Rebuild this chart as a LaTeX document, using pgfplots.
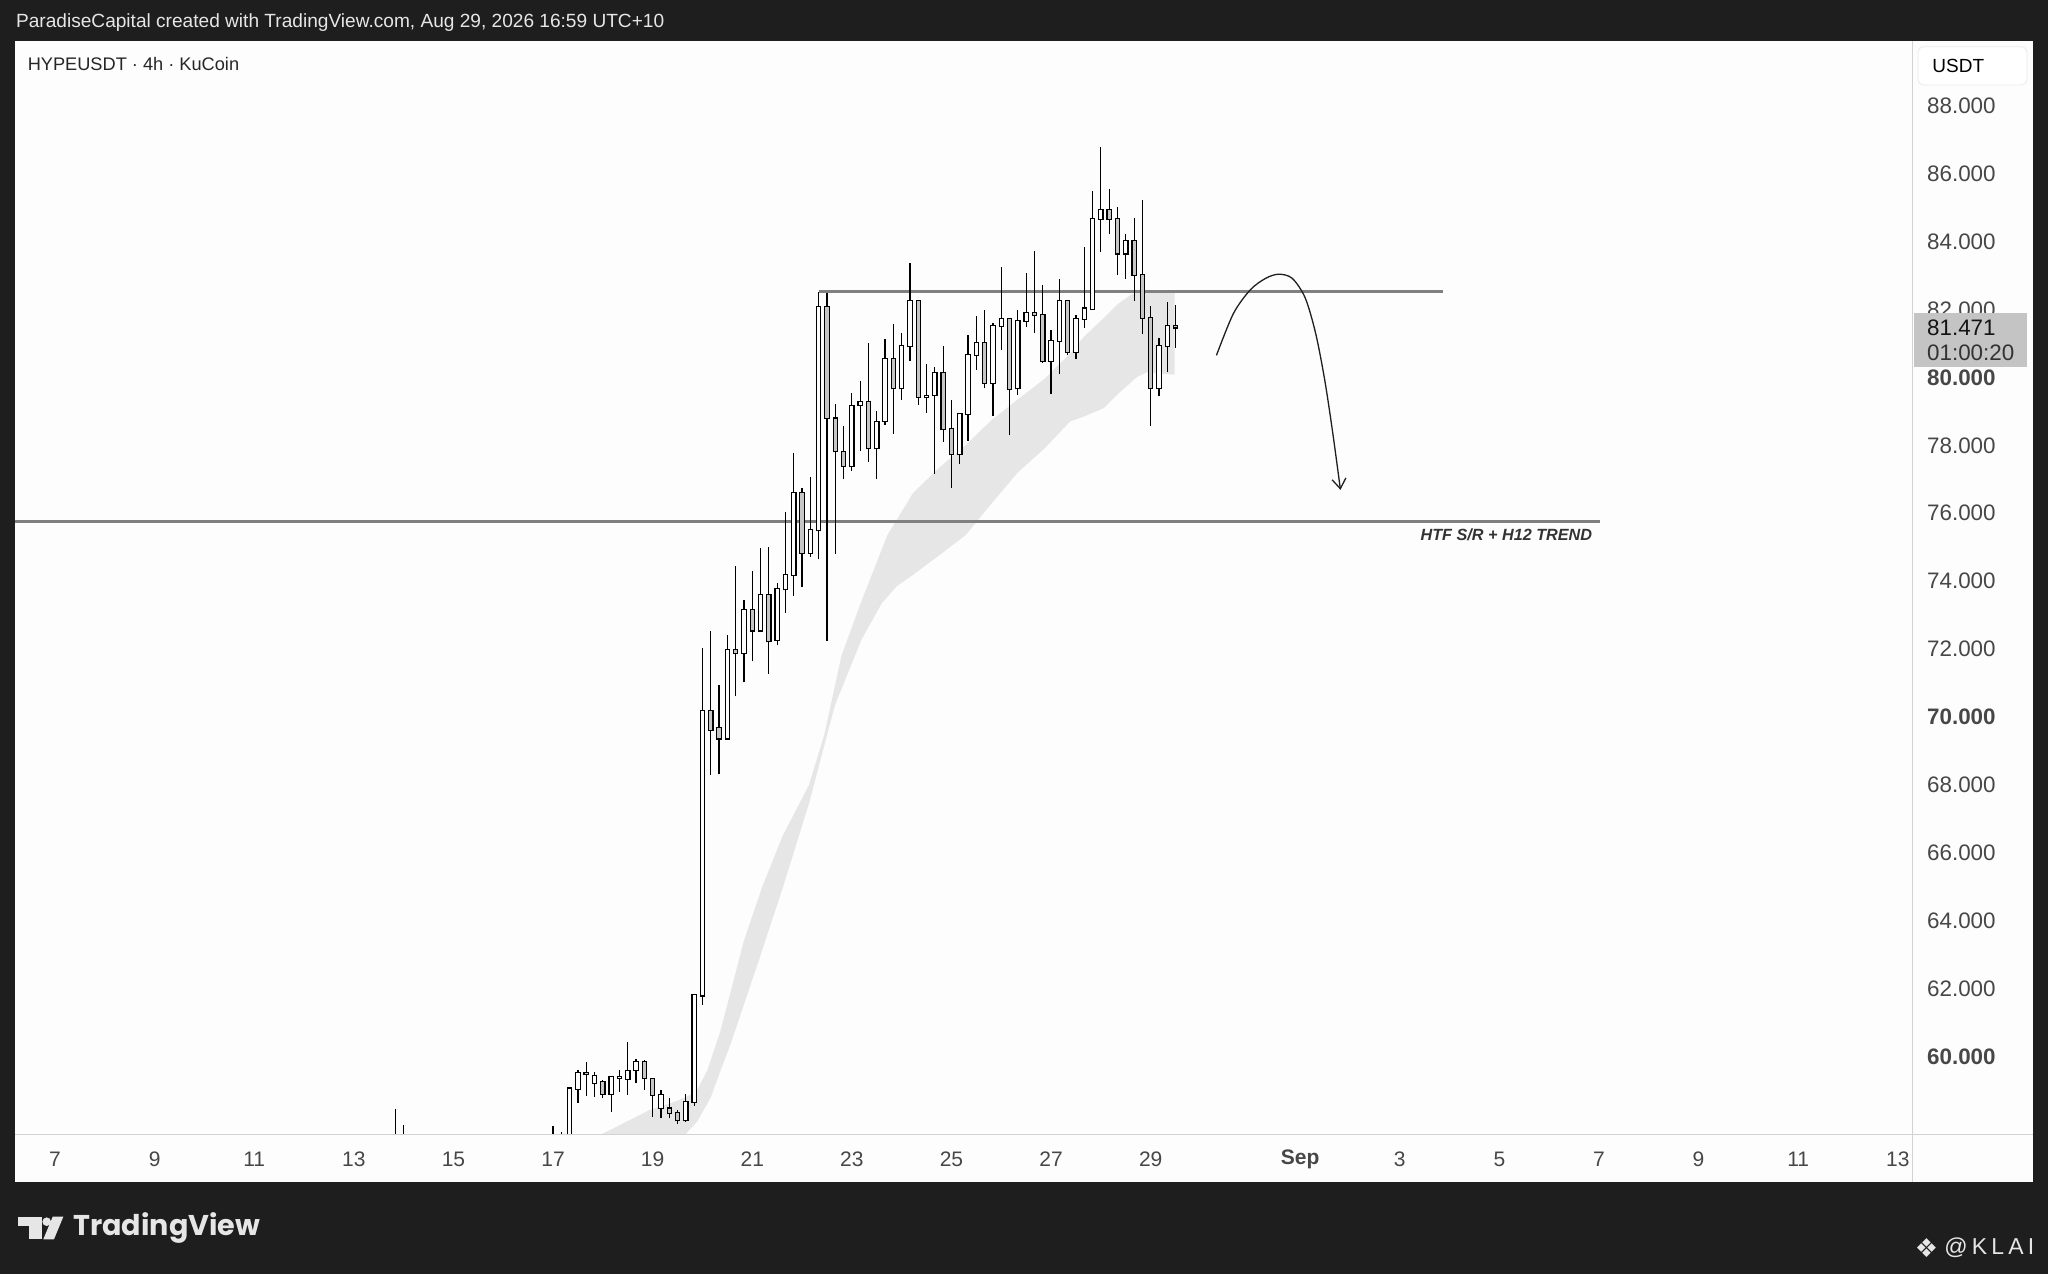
\documentclass[border=0pt]{standalone}
\usepackage{fontspec}
\setmainfont{Liberation Sans}
\newfontfamily\symfont{DejaVu Sans}
\newfontfamily\tvfont{Poppins}
\newfontfamily\klaifont[LetterSpace=18]{Liberation Sans}
\usepackage{pgfplots}
\pgfplotsset{compat=1.18}
\usepackage{pgfplotstable}
\usetikzlibrary{arrows.meta}
\definecolor{frame}{HTML}{1E1E1E}
\definecolor{panel}{HTML}{FDFDFD}
\definecolor{sep}{HTML}{D2D2D2}
\definecolor{ticktext}{HTML}{474747}
\definecolor{bearfill}{HTML}{C6C6C6}
\definecolor{band}{HTML}{E6E6E6}
\definecolor{lvl}{HTML}{808080}
\definecolor{pricebox}{HTML}{C4C4C4}
\definecolor{headtext}{HTML}{E6E6E6}

% 4h candles: n = candle index, time = Aug 17 + n/6 days
\pgfplotstableread{
n o h l c
-19 56.4 58.47 55.9 56.9
-18 56.9 58.00 56.3 57.2
0 56.0 57.95 55.5 56.8
1 56.8 57.78 56.3 57.0
2 57.0 59.09 56.8 59.06
3 59.06 59.62 58.64 59.52
4 59.52 59.85 58.84 59.48
5 59.23 59.55 58.82 59.42
6 59.26 59.31 58.77 58.91
7 58.91 59.41 58.37 59.39
8 59.37 59.62 58.96 59.39
9 59.34 60.44 58.87 59.58
10 59.62 59.92 59.21 59.83
11 59.83 59.90 59.01 59.36
12 59.33 59.36 58.21 58.88
13 58.50 59.01 58.18 58.88
14 58.47 58.77 58.18 58.35
15 58.34 58.42 58.01 58.13
16 58.13 58.91 58.08 58.67
17 58.67 61.80 58.55 61.80
18 61.80 72.02 61.53 70.17
19 70.17 72.53 68.29 69.61
20 69.67 70.94 68.32 69.37
21 69.37 72.42 69.35 71.97
22 71.97 74.46 70.61 71.90
23 71.90 73.44 71.02 73.16
24 73.16 74.30 71.64 72.55
25 72.55 74.97 72.50 73.60
26 73.60 75.00 71.28 72.24
27 72.27 73.95 72.12 73.76
28 73.76 76.05 73.07 74.18
29 74.18 77.78 73.56 76.60
30 76.60 76.73 73.82 74.84
31 74.84 77.08 74.72 75.50
32 75.50 82.53 74.64 82.08
33 82.06 82.48 72.24 78.82
34 78.79 79.22 74.80 77.83
35 77.81 78.58 77.00 77.39
36 77.39 79.55 77.25 79.16
37 79.18 79.89 77.84 79.28
38 79.28 81.00 77.52 77.91
39 77.91 79.02 77.00 78.68
40 78.73 81.12 78.60 80.55
41 80.55 81.57 78.33 79.68
42 79.68 81.30 79.33 80.92
43 80.92 83.38 80.49 82.26
44 82.26 82.28 79.19 79.43
45 79.43 80.39 78.96 79.46
46 79.48 80.30 77.17 80.12
47 80.12 80.92 78.10 78.47
48 78.47 79.33 76.73 77.74
49 77.74 78.92 77.45 78.92
50 78.92 81.25 78.13 80.66
51 80.66 81.81 80.22 81.00
52 81.00 81.98 79.68 79.84
53 79.84 81.61 78.86 81.51
54 81.51 83.24 80.82 81.71
55 81.71 81.75 78.30 79.65
56 79.68 81.98 79.48 81.67
57 81.67 83.08 81.49 81.89
58 81.89 83.72 81.30 81.84
59 81.84 82.72 80.43 80.49
60 80.49 81.40 79.51 81.07
61 81.07 82.89 80.09 82.25
62 82.25 82.28 80.66 80.76
63 80.76 81.84 80.53 81.72
64 81.72 83.85 81.47 82.03
65 82.03 85.49 82.00 84.67
66 84.68 86.80 83.68 84.93
67 84.93 85.55 84.21 84.67
68 84.67 85.03 83.03 83.65
69 83.65 84.21 82.90 84.02
70 84.02 84.70 82.25 83.02
71 83.02 85.23 81.27 81.76
72 81.76 82.11 78.58 79.68
73 79.68 81.17 79.46 80.93
74 80.93 82.21 80.15 81.51
75 81.51 82.13 80.86 81.471
}\candles

\begin{document}
\begin{tikzpicture}
% frame and panel (units: reference pixels, 0.5pt each)
\begin{scope}[x=0.5pt,y=0.5pt]
\fill[frame] (0,0) rectangle (2048,1274);
\fill[panel] (15,92) rectangle (2032.7,1233);
\end{scope}

\begin{axis}[
  at={(7.5pt,69.75pt)}, anchor=south west,
  scale only axis, width=948.85pt, height=546.75pt,
  xmin=6.197, xmax=44.30, ymin=57.706, ymax=89.908,
  axis line style={draw=none}, tick style={draw=none}, major tick length=0pt,
  xtick={7,9,11,13,15,17,19,21,23,25,27,29,32,34,36,38,40,42,44},
  xticklabels={7,9,11,13,15,17,19,21,23,25,27,29,{\textbf{Sep}},3,5,7,9,11,13},
  xticklabel style={anchor=center, yshift=-12.25pt, font=\fontsize{10.5}{12}\selectfont, text=ticktext},
  ytick={60,62,...,88},
  yticklabels={\textbf{60.000},62.000,64.000,66.000,68.000,\textbf{70.000},72.000,74.000,76.000,78.000,\textbf{80.000},82.000,84.000,86.000,88.000},
  yticklabel pos=right,
  yticklabel style={anchor=west, inner sep=0pt, xshift=7pt, font=\fontsize{11.2}{12}\selectfont, text=ticktext},
]
% trend cloud
\addplot[draw=none, fill=band] coordinates {
(17.3,56.5) (18.0,57.73) (18.93,58.42) (19.5,58.7) (19.87,58.95) (20.1,59.6) (20.36,60.75)
(20.83,63.4) (21.2,65.0) (21.61,66.5) (22.14,68.0) (22.45,69.5) (22.79,71.8) (23.19,73.4)
(23.71,75.35) (24.23,76.6) (24.76,77.35) (25.28,78.0) (25.81,78.75) (26.33,79.35) (26.86,79.95)
(27.38,80.7) (27.66,81.2) (28.06,81.75) (28.33,82.15) (28.6,82.43) (28.86,82.57) (29.2,82.55) (29.48,82.48)
(29.48,80.08) (28.92,80.15) (28.73,80.02) (28.33,79.5) (28.06,79.1) (27.66,78.85) (27.38,78.7)
(26.86,77.9) (26.33,77.2) (25.81,76.3) (25.28,75.35) (24.76,74.77) (24.23,74.19) (23.9,73.85) (23.6,73.35)
(23.19,72.27) (22.66,70.35) (22.14,67.46) (21.61,64.96) (21.09,62.65) (20.56,60.35) (20.34,59.5)
(20.17,58.81) (19.9,58.1) (19.67,57.73) (19.0,56.8) (17.3,56.0)
};
% levels
\addplot[lvl, line width=1.35pt] coordinates {(6.197,75.75) (38.02,75.75)};
\addplot[lvl, line width=1.25pt] coordinates {(22.33,82.53) (34.87,82.53)};
% wicks
\addplot[draw=none, error bars/.cd, y dir=plus, y explicit, error mark=none,
  error bar style={draw=black, line width=0.6pt}]
  table[x expr=17+\thisrow{n}/6, y=l, y error plus expr={\thisrow{h}-\thisrow{l}}] {\candles};
% body outlines
\addplot[draw=none, error bars/.cd, y dir=plus, y explicit, error mark=none,
  error bar style={draw=black, line width=2.75pt}]
  table[x expr=17+\thisrow{n}/6, y expr={min(\thisrow{o},\thisrow{c})-0.032},
        y error plus expr={abs(\thisrow{c}-\thisrow{o})+0.064}] {\candles};
% bullish bodies
\addplot[draw=none, error bars/.cd, y dir=plus, y explicit, error mark=none,
  error bar style={draw=panel, line width=1.6pt}]
  table[x expr=17+\thisrow{n}/6, y=o, y error plus expr={max(\thisrow{c}-\thisrow{o},0)}] {\candles};
% bearish bodies
\addplot[draw=none, error bars/.cd, y dir=plus, y explicit, error mark=none,
  error bar style={draw=bearfill, line width=1.6pt}]
  table[x expr=17+\thisrow{n}/6, y=c, y error plus expr={max(\thisrow{o}-\thisrow{c},0)}] {\candles};
% projected path
\addplot[smooth, black!88, line width=0.65pt, -{Straight Barb[length=5pt,width=7pt]}] coordinates {
(30.32,80.65) (30.66,81.88) (31.0,82.58) (31.31,82.92) (31.57,83.04) (31.84,82.92)
(32.10,82.35) (32.31,81.31) (32.49,79.96) (32.65,78.42) (32.81,76.69)};
\node[anchor=east, inner sep=0pt, text=black!80, font=\fontsize{8.1}{9}\selectfont\bfseries\itshape]
  at (axis cs:37.87,75.37) {HTF S/R + H12 TREND};
\end{axis}

\begin{scope}[x=0.5pt,y=0.5pt]
% separators
\draw[sep, line width=0.75pt] (1912.7,92) -- (1912.7,1233);
\draw[sep, line width=0.75pt] (15,139.5) -- (2032.7,139.5);

% price label box
\fill[pricebox] (1913.5,961.3) rectangle (2027,906.7);
\node[anchor=west, inner sep=0pt, text=black!92, font=\fontsize{11.2}{12}\selectfont] at (1926.7,946.3) {81.471};
\node[anchor=west, inner sep=0pt, text=black!80, font=\fontsize{11.2}{12}\selectfont] at (1926.7,921.3) {01:00:20};

% currency box
\draw[fill=white, draw=black!8, rounded corners=3pt] (1918,1227.3) rectangle (2027,1189);
\node[anchor=west, inner sep=0pt, text=black, font=\fontsize{9.5}{11}\selectfont] at (1932,1208) {USDT};

% symbol title
\node[anchor=west, inner sep=0pt, text=black!85, font=\fontsize{9.1}{10}\selectfont] at (27.4,1210) {HYPEUSDT · 4h · KuCoin};

% header
\node[anchor=west, inner sep=0pt, text=headtext, font=\fontsize{9.55}{11}\selectfont] at (15.7,1251.8)
  {ParadiseCapital created with TradingView.com, Aug 29, 2026 16:59 UTC+10};

% footer logo
\fill[headtext] (18,57.3) rectangle (42,48);
\fill[headtext] (29,57.3) rectangle (42,34.7);
\fill[headtext] (46.7,52.3) circle (4.3);
\fill[headtext] (52.7,57.3) -- (63.3,57.3) -- (54,34.7) -- (43.3,34.7) -- cycle;
\node[anchor=west, inner sep=0pt, text=headtext, font=\fontsize{14.3}{16}\selectfont\tvfont\bfseries] at (73,46) {TradingView};

% footer right
\node[anchor=center, inner sep=0pt, text=headtext, font=\fontsize{13}{14}\selectfont\symfont] at (1926.5,26) {❖};
\node[anchor=west, inner sep=0pt, text=headtext, font=\fontsize{11.5}{13}\selectfont\klaifont] at (1944,26) {@KLAI};
\end{scope}
\end{tikzpicture}
\end{document}
